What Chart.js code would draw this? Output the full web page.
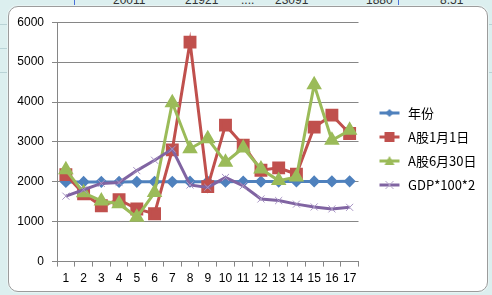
<!DOCTYPE html>
<html lang="zh">

<head>
    <meta charset="UTF-8">
    <title>A股与GDP</title>
    <style>
        body { margin: 0; width: 492px; height: 295px; background: #dcefef; position: relative; overflow: hidden; }
        .cell { position: absolute; top: -7px; font: 12px "Liberation Sans", sans-serif; color: #333; }
        .vline { position: absolute; top: 0; width: 1px; height: 7px; background: #4a6fd8; }
        .hline { position: absolute; height: 1px; background: #b9d3d6; }
        #box { position: absolute; left: 8px; top: 6px; width: 478px; height: 284px; background: #fff;
               border: 1px solid #9c9c9c; border-radius: 10px; box-shadow: 0 0 0 1px #e8f4f4; }
        #myChart { position: absolute; left: 0; top: 0; }
    </style>
</head>

<body>
    <span class="cell" style="left:113px">20011</span>
    <span class="cell" style="left:185px">21921</span>
    <span class="cell" style="left:241px">....</span>
    <span class="cell" style="left:275px">23091</span>
    <span class="cell" style="left:366px">1880</span>
    <span class="cell" style="left:440px">8.51</span>
    <div class="vline" style="left:74px"></div>
    <div class="vline" style="left:398px"></div>
    <div class="hline" style="left:0; width:8px; top:24px"></div>
    <div class="hline" style="left:0; width:8px; top:48px"></div>
    <div class="hline" style="left:0; width:8px; top:72px"></div>
    <div class="hline" style="left:488px; width:4px; top:24px"></div>
    <div class="hline" style="left:488px; width:4px; top:72px"></div>

    <div id="box">
        <canvas id="myChart" width="478" height="284"></canvas>
    </div>

    <script src="https://cdn.jsdelivr.net/npm/chart.js"></script>

    <script>
        // 分类 (1..17)
        let v_labels = ["1", "2", "3", "4", "5", "6", "7", "8", "9", "10", "11", "12", "13", "14", "15", "16", "17"];

        // 系列
        let v_year = [1995, 1996, 1997, 1998, 1999, 2000, 2001, 2002, 2003, 2004, 2005, 2006, 2007, 2008, 2009, 2010, 2011];
        let v_jan1 = [2180, 1700, 1400, 1550, 1320, 1200, 2800, 5500, 1880, 3420, 2920, 2290, 2350, 2190, 3370, 3670, 3210];
        let v_jun30 = [2300, 1725, 1520, 1450, 1110, 1730, 3980, 2830, 3080, 2490, 2850, 2320, 2030, 2120, 4430, 3040, 3290];
        let v_gdp = [1640, 1800, 1960, 1980, 2280, 2540, 2820, 1920, 1860, 2110, 1900, 1570, 1530, 1440, 1370, 1320, 1360];

        let v_names = ["年份", "A股1月1日", "A股6月30日", "GDP*100*2"];

        // 图例用的小图标 (左边留空 + 线 + 标记)
        function f_icon(color, style, markColor) {
            let c = document.createElement("canvas");
            c.width = 32;
            c.height = 12;
            let g = c.getContext("2d");
            g.strokeStyle = color;
            g.lineWidth = 3;
            g.beginPath();
            g.moveTo(10, 6);
            g.lineTo(30, 6);
            g.stroke();
            g.fillStyle = color;
            if (style == "diamond") {
                g.beginPath();
                g.moveTo(20, 2); g.lineTo(24, 6); g.lineTo(20, 10); g.lineTo(16, 6);
                g.closePath();
                g.fill();
            } else if (style == "square") {
                g.fillRect(15, 1, 10, 10);
            } else if (style == "triangle") {
                g.beginPath();
                g.moveTo(20, 1); g.lineTo(25, 10); g.lineTo(15, 10);
                g.closePath();
                g.fill();
            } else {
                g.strokeStyle = markColor;
                g.lineWidth = 1;
                g.beginPath();
                g.moveTo(16, 2); g.lineTo(24, 10);
                g.moveTo(24, 2); g.lineTo(16, 10);
                g.stroke();
            }
            return c;
        }

        let v_icons = [
            f_icon("#4F81BD", "diamond"),
            f_icon("#C0504D", "square"),
            f_icon("#9BBB59", "triangle"),
            f_icon("#8064A2", "x", "#b3a2c7")
        ];

        const ctx = document.getElementById("myChart");

        let v_chart = new Chart(ctx, {
            type: 'line',
            data: {
                labels: v_labels,
                datasets: [{
                    label: v_names[0],
                    data: v_year,
                    borderColor: '#4F81BD',
                    backgroundColor: '#4F81BD',
                    borderWidth: 3,
                    pointStyle: 'rectRot',
                    pointRadius: 4,
                    order: 4
                }, {
                    label: v_names[1],
                    data: v_jan1,
                    borderColor: '#C0504D',
                    backgroundColor: '#C0504D',
                    borderWidth: 3,
                    pointStyle: 'rect',
                    pointRadius: 7,
                    order: 3
                }, {
                    label: v_names[2],
                    data: v_jun30,
                    borderColor: '#9BBB59',
                    backgroundColor: '#9BBB59',
                    borderWidth: 3,
                    pointStyle: 'triangle',
                    pointRadius: 6,
                    order: 2
                }, {
                    label: v_names[3],
                    data: v_gdp,
                    borderColor: '#8064A2',
                    backgroundColor: '#8064A2',
                    borderWidth: 3,
                    pointStyle: 'crossRot',
                    pointRadius: 5,
                    pointBorderColor: '#a895c4',
                    pointBorderWidth: 1,
                    order: 1
                }]
            },
            options: {
                responsive: false,
                animation: false,
                layout: {
                    padding: { left: 0, top: 8, right: 12, bottom: 8 }
                },
                elements: {
                    line: { tension: 0 }
                },
                scales: {
                    x: {
                        offset: true,
                        grid: {
                            offset: true,
                            drawOnChartArea: false,
                            drawTicks: true,
                            tickLength: 5,
                            color: '#868686'
                        },
                        border: { color: '#868686' },
                        ticks: {
                            color: '#000',
                            padding: 5,
                            maxRotation: 0,
                            autoSkip: false,
                            font: { family: "Liberation Sans", size: 12 }
                        },
                        afterFit: (s) => { s.height = s.height - 8; }
                    },
                    y: {
                        min: 0,
                        max: 6000,
                        ticks: {
                            stepSize: 1000,
                            color: '#000',
                            padding: 8,
                            font: { family: "Liberation Sans", size: 12 },
                            callback: (v) => String(v)
                        },
                        grid: {
                            color: '#868686',
                            tickLength: 5
                        },
                        border: { color: '#868686' },
                        afterFit: (s) => { s.width = 48; }
                    }
                },
                plugins: {
                    legend: {
                        position: 'right',
                        labels: {
                            usePointStyle: true,
                            pointStyleWidth: 32,
                            padding: 11,
                            color: '#000',
                            font: { family: "Noto Sans CJK SC", size: 13 },
                            sort: (a, b) => a.datasetIndex - b.datasetIndex,
                            generateLabels: (chart) => {
                                return chart.data.datasets.map((d, i) => ({
                                    text: d.label,
                                    pointStyle: v_icons[i],
                                    fillStyle: d.borderColor,
                                    strokeStyle: d.borderColor,
                                    lineWidth: 0,
                                    hidden: false,
                                    datasetIndex: i
                                }));
                            }
                        }
                    },
                    tooltip: { enabled: false }
                }
            }
        });
    </script>
</body>

</html>
